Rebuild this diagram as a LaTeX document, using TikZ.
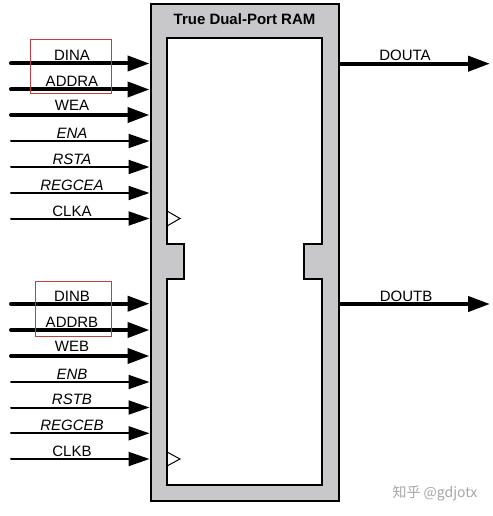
\documentclass[tikz,border=0pt]{standalone}
\usepackage{fontspec}
\setmainfont{Liberation Sans}
\newfontfamily\cjkfont{Noto Sans CJK SC}
\usetikzlibrary{arrows.meta}
\usetikzlibrary{positioning}
\definecolor{ramgray}{RGB}{200,200,202}
\definecolor{boxred}{RGB}{192,64,64}
\newcommand{\portfont}{\fontsize{15pt}{18pt}\selectfont}

\begin{document}
\begin{tikzpicture}[%
  x=1pt, y=-1pt,
  bus/.style={line width=4pt, line cap=round, -{Triangle[length=22pt,width=15pt]}},
  sig/.style={line width=2pt, line cap=round, -{Triangle[length=21pt,width=14pt]}},
  portlabel/.style={anchor=base, inner sep=0pt, font=\portfont},
]
  \useasboundingbox (0,0) rectangle (492,516);

  % the RAM block
  \node[draw, line width=2pt, fill=ramgray, minimum width=188pt, minimum height=496pt,
        inner sep=0pt] (ram) at (244.5,252.5) {};
  \draw[line width=2pt, fill=white] (167,38) -- (322,38) -- (322,244) -- (304,244)
    -- (304,279) -- (322,279) -- (322,485) -- (167,485) -- (167,279) -- (184,279)
    -- (184,244) -- (167,244) -- cycle;
  \node[portlabel, font=\portfont\bfseries] (title) at (244.5,25) {True Dual-Port RAM};

  % clock marks
  \draw[line width=1pt] (167,211) -- (180,218.5) -- (167,226);
  \draw[line width=1pt] (167,452) -- (180,459) -- (167,466);

  % port A
  \coordinate (dina) at (11,63.5);
  \coordinate (addra) at (11,89.5);
  \coordinate (wea) at (11,115);
  \coordinate (ena) at (11,141);
  \coordinate (rsta) at (11,167);
  \coordinate (regcea) at (11,193);
  \coordinate (clka) at (11,218.5);

  \draw[bus] (dina) -- (dina -| ram.west);
  \draw[bus] (addra) -- (addra -| ram.west);
  \draw[bus] (wea) -- (wea -| ram.west);
  \draw[sig] (ena) -- (ena -| ram.west);
  \draw[sig] (rsta) -- (rsta -| ram.west);
  \draw[sig] (regcea) -- (regcea -| ram.west);
  \draw[sig] (clka) -- (clka -| ram.west);

  \node[portlabel] (dinalbl) at (72,61) {DINA};
  \node[portlabel] (addralbl) at (72,87) {ADDRA};
  \node[portlabel] (wealbl) at (72,110.5) {WEA};
  \node[portlabel, font=\portfont\itshape] (enalbl) at (72,138) {ENA};
  \node[portlabel, font=\portfont\itshape] (rstalbl) at (72,164) {RSTA};
  \node[portlabel, font=\portfont\itshape] (regcealbl) at (72,190.5) {REGCEA};
  \node[portlabel] (clkalbl) at (72,216) {CLKA};

  % port B
  \coordinate (dinb) at (11,303.7);
  \coordinate (addrb) at (11,330);
  \coordinate (web) at (11,356);
  \coordinate (enb) at (11,382);
  \coordinate (rstb) at (11,407.5);
  \coordinate (regceb) at (11,433.3);
  \coordinate (clkb) at (11,459);

  \draw[bus] (dinb) -- (dinb -| ram.west);
  \draw[bus] (addrb) -- (addrb -| ram.west);
  \draw[bus] (web) -- (web -| ram.west);
  \draw[sig] (enb) -- (enb -| ram.west);
  \draw[sig] (rstb) -- (rstb -| ram.west);
  \draw[sig] (regceb) -- (regceb -| ram.west);
  \draw[sig] (clkb) -- (clkb -| ram.west);

  \node[portlabel] (dinblbl) at (72,301.7) {DINB};
  \node[portlabel] (addrblbl) at (72,327.7) {ADDRB};
  \node[portlabel] (weblbl) at (72,351) {WEB};
  \node[portlabel, font=\portfont\itshape] (enblbl) at (72,379) {ENB};
  \node[portlabel, font=\portfont\itshape] (rstblbl) at (72,404.7) {RSTB};
  \node[portlabel, font=\portfont\itshape] (regceblbl) at (72,430) {REGCEB};
  \node[portlabel] (clkblbl) at (72,456) {CLKB};

  % outputs
  \coordinate (douta) at (490,63.7);
  \coordinate (doutb) at (490,304);
  \draw[bus, line cap=butt] (douta -| ram.east) -- (douta);
  \draw[bus, line cap=butt] (doutb -| ram.east) -- (doutb);
  \node[portlabel] (doutalbl) at (405,61) {DOUTA};
  \node[portlabel] (doutblbl) at (406,301) {DOUTB};

  % highlight boxes
  \draw[boxred, line width=1pt] (30,40) rectangle (111,94);
  \draw[boxred, line width=1pt] (35,281) rectangle (111,336);

  \node[anchor=base, inner sep=0pt, text=black!35, font=\cjkfont\fontsize{14pt}{16pt}\selectfont]
    (mark) at (435,497) {知乎 @gdjotx};

\end{tikzpicture}
\end{document}
